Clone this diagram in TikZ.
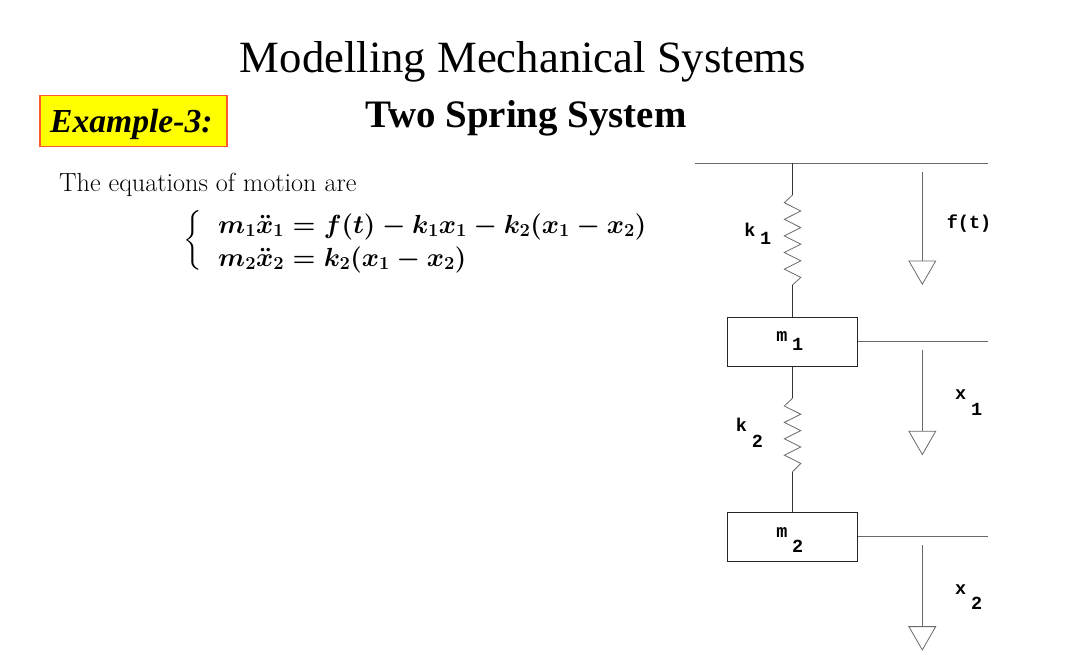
\documentclass[tikz,border=0pt]{standalone}
\usepackage{fix-cm}
\usepackage{amsmath}
\usepackage{fontspec}
\usetikzlibrary{arrows.meta}
\newfontfamily\timesfont{Liberation Serif}
\newfontfamily\codefont{Liberation Mono}
\definecolor{boxred}{RGB}{255,90,50}
\definecolor{boxyellow}{RGB}{255,255,0}
\definecolor{linegray}{RGB}{105,105,105}
\newcommand\Sz[1]{\fontsize{#1}{#1}\selectfont}
\begin{document}
\begin{tikzpicture}[x=1pt,y=-1pt,
  tag/.style={anchor=base,inner sep=0pt,font=\codefont\bfseries\Sz{18.5}},
  eqn/.style={anchor=base west,inner sep=0pt,font=\Sz{26.2}\boldmath},
  mass/.style={draw=black!85,line width=0.9pt,minimum width=130.4pt,minimum height=49pt,inner sep=0pt},
  rail/.style={linegray,line width=1.1pt},
  stem/.style={black!80,line width=0.9pt},
  spring/.style={linegray,line width=0.8pt,line join=miter},
  force/.style={linegray,line width=1.1pt,-{Triangle[open,length=24.5pt,width=28pt,line width=0.8pt]}}]

  \useasboundingbox (0,0) rectangle (1082,672);

  %% headings
  \node[anchor=base,inner sep=0pt,font=\timesfont\Sz{44.7}] (title) at (523,72.5) {Modelling Mechanical Systems};
  \node[anchor=base,inner sep=0pt,font=\timesfont\bfseries\Sz{38.9}] (subtitle) at (526,127) {Two Spring System};
  \node[draw=boxred,fill=boxyellow,line width=1.2pt,minimum width=187pt,minimum height=51pt,inner sep=0pt] (examplebox) at (133.5,121) {};
  \node[anchor=base west,inner sep=0pt,font=\timesfont\bfseries\itshape\Sz{33.6}] (example) at (50,132) {Example-3:};

  %% equations
  \node[anchor=base west,inner sep=0pt,font=\Sz{26.2}] (intro) at (59,191) {The equations of motion are};
  \node[inner sep=0pt,font=\Sz{26.2}] (brace) at (193,240) {$\left\{\vcenter{\hbox{\rule{0pt}{56pt}}}\right.$};
  \node[eqn] (eqa) at (218,233) {$m_1\ddot{x}_1=f(t)-k_1x_1-k_2(x_1-x_2)$};
  \node[eqn] (eqb) at (218,266) {$m_2\ddot{x}_2=k_2(x_1-x_2)$};

  %% masses
  \node[mass] (m1) at (792.5,341.8) {};
  \node[mass] (m2) at (792.5,536.8) {};

  %% ends of the lines
  \coordinate (wallL) at (695,163.3);
  \coordinate (wallR) at (988,163.3);
  \coordinate (wallM) at (792.5,163.3);
  \coordinate (s1top) at (792.5,195);
  \coordinate (s1bot) at (792.5,285);
  \coordinate (s2top) at (792.5,398.3);
  \coordinate (s2bot) at (792.5,471.7);
  \coordinate (r1) at (988,341.8);
  \coordinate (r2) at (988,536.8);
  \coordinate (f0) at (922.3,171.7);
  \coordinate (f1) at (922.3,285);
  \coordinate (a0) at (922.3,350);
  \coordinate (a1) at (922.3,455.3);
  \coordinate (b0) at (922.3,545);
  \coordinate (b1) at (922.3,650.7);

  %% rails
  \draw[rail] (wallL) -- (wallR);
  \draw[rail] (m1.east) -- (r1);
  \draw[rail] (m2.east) -- (r2);

  %% spring 1
  \draw[stem] (wallM) -- (s1top);
  \draw[spring] (s1top) -- ++(-8.2,7.7)
    foreach \n in {1,...,4} { -- ++(16.5,8.3) -- ++(-16.5,8.3) }
    -- ++(16.5,8.3) -- (s1bot);
  \draw[stem] (s1bot) -- (m1.north);

  %% spring 2
  \draw[stem] (m1.south) -- (s2top);
  \draw[spring] (s2top) -- ++(-8.2,7.7)
    foreach \n in {1,...,3} { -- ++(16.5,8.2) -- ++(-16.5,8.2) }
    -- ++(16.5,8.2) -- (s2bot);
  \draw[stem] (s2bot) -- (m2.north);

  %% arrows
  \draw[force] (f0) -- (f1);
  \draw[force] (a0) -- (a1);
  \draw[force] (b0) -- (b1);

  %% labels
  \node[tag] (k1) at (750,236.7) {k};
  \node[tag] (k1i) at (765.7,244.3) {1};
  \node[tag] (ft) at (969,228.7) {f(t)};
  \node[tag] (m1a) at (782,341.7) {m};
  \node[tag] (m1i) at (797.7,350) {1};
  \node[tag] (x1) at (960.7,399.3) {x};
  \node[tag] (x1i) at (976.7,415) {1};
  \node[tag] (k2) at (741.3,431) {k};
  \node[tag] (k2i) at (757.3,447.7) {2};
  \node[tag] (m2a) at (782,537.3) {m};
  \node[tag] (m2i) at (797.7,552.7) {2};
  \node[tag] (x2) at (960.7,594.3) {x};
  \node[tag] (x2i) at (976.7,609.3) {2};

\end{tikzpicture}
\end{document}
